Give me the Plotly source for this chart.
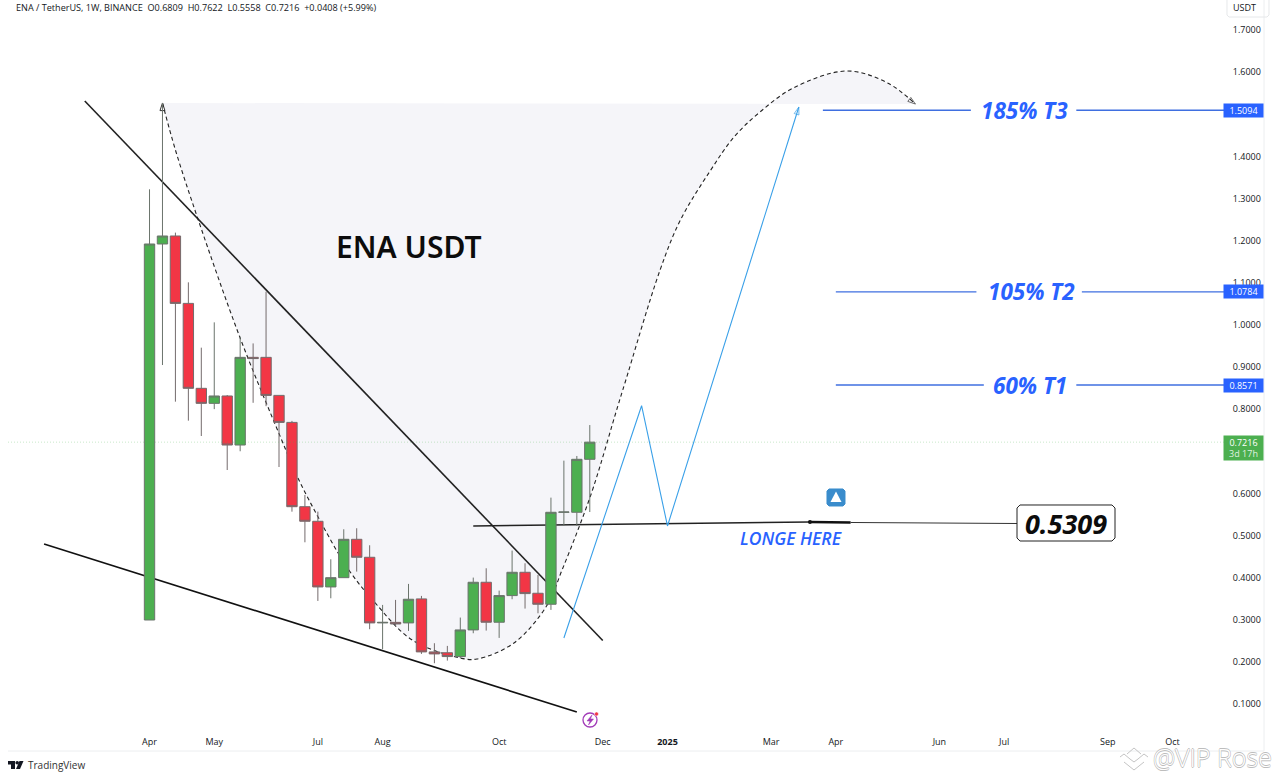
import pandas as pd
import plotly.graph_objects as go

# weekly candles, ENA / USDT
week_starts = pd.date_range("2024-04-01", periods=35, freq="7D")
opens = [0.2994, 1.192, 1.211, 1.051, 0.8494, 0.8137, 0.8312, 0.7148, 0.9229, 0.9229, 0.8326, 0.7685,
         0.5684, 0.5338, 0.3779, 0.3999, 0.4910, 0.4483, 0.2925, 0.2938, 0.2925, 0.3495, 0.2237, 0.2217,
         0.2126, 0.2759, 0.3890, 0.2941, 0.3574, 0.4127, 0.3629, 0.3368, 0.5551, 0.5551, 0.6809]
highs = [1.3218, 1.5267, 1.219, 1.101, 0.9459, 1.006, 0.8335, 0.972, 0.956, 1.0787, 0.8326, 0.772,
         0.5963, 0.5567, 0.4436, 0.5148, 0.5172, 0.4768, 0.3352, 0.3471, 0.3851, 0.3566, 0.2443, 0.2379,
         0.3052, 0.4001, 0.4222, 0.3692, 0.4642, 0.4341, 0.4064, 0.5899, 0.6777, 0.6888, 0.7622]
lows = [0.2994, 0.9047, 0.8177, 0.7726, 0.7362, 0.80, 0.6555, 0.70, 0.815, 0.807, 0.6626, 0.5566,
        0.4839, 0.3447, 0.3510, 0.3999, 0.4143, 0.2775, 0.2300, 0.2838, 0.2735, 0.2189, 0.1968, 0.2031,
        0.2087, 0.2680, 0.2743, 0.2569, 0.3487, 0.3265, 0.3154, 0.3234, 0.5227, 0.5227, 0.5558]
closes = [1.192, 1.211, 1.051, 0.8494, 0.8137, 0.8312, 0.7148, 0.9229, 0.9200, 0.8326, 0.7685, 0.5684,
          0.5338, 0.3779, 0.3999, 0.4910, 0.4483, 0.2925, 0.2938, 0.2900, 0.3487, 0.2237, 0.2189, 0.2126,
          0.2759, 0.3890, 0.2941, 0.3574, 0.4127, 0.3621, 0.3368, 0.5551, 0.5558, 0.6809, 0.7216]

# hand drawn cup curve
cup_dates = ["2024-04-08", "2024-04-15", "2024-04-27", "2024-05-20", "2024-06-11", "2024-06-20", "2024-07-02",
             "2024-07-17", "2024-08-01", "2024-08-21", "2024-09-16", "2024-09-25", "2024-10-15", "2024-11-02",
             "2024-11-10", "2024-11-19", "2024-11-27", "2024-12-10", "2024-12-14", "2025-01-02", "2025-01-13",
             "2025-01-29", "2025-02-11", "2025-02-25", "2025-03-15", "2025-04-13", "2025-05-05", "2025-05-20"]
cup_prices = [1.5267, 1.4151, 1.2537, 0.9688, 0.7315, 0.6389, 0.5368, 0.4229, 0.3398, 0.2519, 0.2092, 0.2068,
              0.2448, 0.3350, 0.4181, 0.5178, 0.6151, 0.8050, 0.8620, 1.1303, 1.2490, 1.3650, 1.4460, 1.5053,
              1.5623, 1.6027, 1.5742, 1.5243]

# trend lines
upper_dates = ["2024-02-26", "2024-12-02"]
upper_prices = [1.5315, 0.2507]
lower_dates = ["2024-02-04", "2024-11-18"]
lower_prices = [0.4798, 0.0810]
entry_dates = ["2024-09-23", "2025-03-24", "2025-04-15", "2025-07-14"]
entry_prices = [0.5226, 0.5320, 0.5309, 0.5285]
path_dates = ["2024-11-11", "2024-12-23", "2025-01-06", "2025-03-18"]
path_prices = [0.2567, 0.8081, 0.5226, 1.5172]

# targets
target_prices = [1.5094, 1.0784, 0.8571]
target_names = ["185% T3", "105% T2", "60% T1"]
target_starts = ["2025-03-31", "2025-04-07", "2025-04-07"]
target_gap_starts = ["2025-06-19", "2025-06-22", "2025-06-26"]
target_gap_ends = ["2025-08-15", "2025-08-18", "2025-08-15"]
target_text_dates = ["2025-07-18", "2025-07-22", "2025-07-21"]
last_price = 0.7216

month_dates = ["2024-04-01", "2024-05-06", "2024-07-01", "2024-08-05", "2024-10-07", "2024-12-02", "2025-01-06",
               "2025-03-03", "2025-04-07", "2025-06-02", "2025-07-07", "2025-09-01", "2025-10-06"]
month_labels = ["Apr", "May", "Jul", "Aug", "Oct", "Dec", "<b>2025</b>", "Mar", "Apr", "Jun", "Jul", "Sep", "Oct"]
price_ticks = [0.1, 0.2, 0.3, 0.4, 0.5, 0.6, 0.7, 0.8, 0.9, 1.0, 1.1, 1.2, 1.3, 1.4, 1.5, 1.6, 1.7]

W, H = 1280, 779
LEFT, RIGHT, BOTTOM = 8, 1226, 730
FONT = "Open Sans"
GREEN = "#4caf50"
RED = "#f23645"
BLUE = "#2962ff"
LINE_BLUE = "#3f6fe0"
DARK = "#131722"
x_range = ["2024-01-15 12:00", "2025-11-03 22:00"]
y_range = [0.0383, 1.7712]


# page pixels to paper coordinates, only for the decorations around the chart
def pap_x(x):
    return (x - LEFT) / (RIGHT - LEFT)


def pap_y(y):
    return (BOTTOM - y) / BOTTOM


def page_path(points, close=False):
    s = ""
    for i, (x, y) in enumerate(points):
        s += ("M" if i == 0 else "L") + f"{pap_x(x):.5f},{pap_y(y):.5f} "
    return s + ("Z" if close else "")


fig = go.Figure()

# cup fill and dashed outline
fig.add_trace(go.Scatter(x=cup_dates, y=cup_prices, mode="lines", fill="toself", fillcolor="#f5f5f9",
                         line=dict(color="#222222", width=1.1, dash="4px,3px", shape="spline", smoothing=1.0)))
fig.add_trace(go.Scatter(x=cup_dates[:1], y=cup_prices[:1], mode="markers",
                         marker=dict(symbol="arrow-open", size=8, color="#333333", line=dict(width=1, color="#333333"))))
fig.add_trace(go.Scatter(x=cup_dates[-2:], y=cup_prices[-2:], mode="markers",
                         marker=dict(symbol="arrow-open", size=[0, 8], angleref="previous", color="#333333",
                                     line=dict(width=1, color="#333333"))))

fig.add_hline(y=last_price, line=dict(color="rgba(76,175,80,0.3)", width=1, dash="1px,2px"))

fig.add_trace(go.Scatter(x=upper_dates, y=upper_prices, mode="lines", line=dict(color="#222222", width=1.6)))
fig.add_trace(go.Scatter(x=lower_dates, y=lower_prices, mode="lines", line=dict(color="#111111", width=1.6)))

fig.add_trace(go.Scatter(x=entry_dates[:2], y=entry_prices[:2], mode="lines", line=dict(color="#222222", width=1.5)))
fig.add_trace(go.Scatter(x=entry_dates[1:3], y=entry_prices[1:3], mode="lines", line=dict(color="#111111", width=2.4)))
fig.add_trace(go.Scatter(x=entry_dates[2:], y=entry_prices[2:], mode="lines", line=dict(color="#333333", width=1)))
fig.add_trace(go.Scatter(x=entry_dates[1:2], y=entry_prices[1:2], mode="markers",
                         marker=dict(color="#111111", size=4)))

fig.add_trace(go.Scatter(x=path_dates, y=path_prices, mode="lines+markers", line=dict(color="#3aa0e8", width=1.1),
                         marker=dict(symbol="arrow-open", size=[0, 0, 0, 8], angleref="previous", color="#3aa0e8",
                                     line=dict(width=1, color="#3aa0e8"))))

# target lines, split around their labels
for i in range(3):
    fig.add_trace(go.Scatter(x=[target_starts[i], target_gap_starts[i]], y=[target_prices[i]] * 2, mode="lines",
                             line=dict(color=LINE_BLUE, width=1.4)))
    fig.add_trace(go.Scatter(x=[target_gap_ends[i], x_range[1]], y=[target_prices[i]] * 2, mode="lines",
                             line=dict(color=LINE_BLUE, width=1.4)))
    fig.add_annotation(x=target_text_dates[i], y=target_prices[i], xref="x", yref="y", text=target_names[i],
                       showarrow=False, xanchor="center", yanchor="middle",
                       font=dict(family=FONT, size=22.5, color=BLUE, weight=700, style="italic"))

# candles sit on an overlaying axis pair so the drawings pass behind them
fig.add_trace(go.Candlestick(x=week_starts, open=opens, high=highs, low=lows, close=closes, xaxis="x2", yaxis="y2",
                             increasing=dict(fillcolor=GREEN, line=dict(color="#6b746c", width=1)),
                             decreasing=dict(fillcolor=RED, line=dict(color="#746b6c", width=1))))

fig.add_annotation(x="2024-08-19", y=1.1849, xref="x", yref="y", text="ENA USDT", showarrow=False,
                   xanchor="center", yanchor="middle",
                   font=dict(family="Noto Sans", size=30, color="#0c0c0c", weight=600))
fig.add_annotation(x="2025-03-14", y=0.4941, xref="x", yref="y", text="LONGE HERE", showarrow=False,
                   xanchor="center", yanchor="middle",
                   font=dict(family=FONT, size=17.5, color=BLUE, weight=600, style="italic"))


def page_text(x, y, text, font, xanchor="center"):
    fig.add_annotation(x=pap_x(x), y=pap_y(y), xref="paper", yref="paper", text=text, showarrow=False,
                       xanchor=xanchor, yanchor="middle", font=font)


page_text(1066, 523, "0.5309", dict(family=FONT, size=27, color="#0c0c0c", weight=700, style="italic"))

# price tags on the right
for p in target_prices:
    fig.add_annotation(x=pap_x(1243.5), y=p, xref="paper", yref="y", text=f"{p:.4f}", showarrow=False,
                       xanchor="center", yanchor="middle", width=39, height=13, bgcolor=BLUE, borderpad=0,
                       font=dict(family=FONT, size=9, color="white"))
fig.add_annotation(x=pap_x(1243.5), y=last_price, yshift=-6, xref="paper", yref="y",
                   text=f"{last_price:.4f}<br><span style='font-size:9px;fill-opacity:0.85'>3d 17h</span>",
                   showarrow=False, xanchor="center", yanchor="middle", width=39, height=24, bgcolor=GREEN, borderpad=0,
                   font=dict(family=FONT, size=9, color="white"))

# header, currency box, logo and watermark
page_text(14, 7, "ENA / TetherUS, 1W, BINANCE  O0.6809  H0.7622  L0.5558  C0.7216  +0.0408 (+5.99%)",
          dict(family=FONT, size=9.1, color=DARK), xanchor="left")
page_text(1244, 8, "USDT", dict(family=FONT, size=9, color=DARK))
page_text(26, 765, "TradingView", dict(family=FONT, size=10, color="#333333"), xanchor="left")
page_text(1212, 757, "@VIP Rose", dict(family=FONT, size=25, color="#ffffff", weight=300,
                                       shadow="0.6px 0 #bdbdbd, -0.6px 0 #bdbdbd, 0 0.6px #bdbdbd, 0 -0.6px #bdbdbd"))

frame = "#eceef0"
shapes = [
    dict(type="path", path=page_path([(8, 0), (8, 751)]), line=dict(color=frame, width=1)),
    dict(type="path", path=page_path([(8, 751), (1264, 751)]), line=dict(color=frame, width=1)),
    dict(type="path", path=page_path([(1264, 0), (1264, 751)]), line=dict(color=frame, width=1)),
    dict(type="path", path=page_path([(1227, 0), (1227, 15), (1229, 17), (1267, 17), (1269, 15), (1269, 0)]),
         line=dict(color="#e6e8ea", width=1)),
    # long marker
    dict(type="path", fillcolor="#3a8ccc", line=dict(color="#3a8ccc", width=1),
         path=page_path([(829, 489), (843, 489), (845, 491), (845, 504), (843, 506), (829, 506), (827, 504), (827, 491)],
                        close=True)),
    dict(type="path", fillcolor="white", line=dict(color="white", width=0),
         path=page_path([(836, 491.5), (841.5, 502), (830.5, 502)], close=True)),
    # purple flash icon
    dict(type="circle", x0=pap_x(583), x1=pap_x(597), y0=pap_y(727), y1=pap_y(713),
         line=dict(color="#a23bb8", width=1.3)),
    dict(type="path", fillcolor="#a23bb8", line=dict(color="#a23bb8", width=0.5),
         path=page_path([(592, 715), (587, 721), (590, 721), (588.5, 725), (593.5, 719), (590.5, 719)], close=True)),
    dict(type="circle", x0=pap_x(594.5), x1=pap_x(598.5), y0=pap_y(716), y1=pap_y(712),
         fillcolor=RED, line=dict(color="white", width=0.5)),
    # TradingView logo
    dict(type="path", fillcolor="#131722", line=dict(width=0),
         path=page_path([(8, 761), (15, 761), (15, 769), (11, 769), (11, 764.5), (8, 764.5)], close=True)),
    dict(type="circle", x0=pap_x(15.4), x1=pap_x(19), y0=pap_y(764.6), y1=pap_y(761),
         fillcolor="#131722", line=dict(width=0)),
    dict(type="path", fillcolor="#131722", line=dict(width=0),
         path=page_path([(19.5, 761), (23.5, 761), (20, 769), (16, 769)], close=True)),
    # box around 0.5309
    dict(type="path", fillcolor="white", line=dict(color="#222222", width=1),
         path=page_path([(1020, 505), (1112, 505), (1115, 508), (1115, 538), (1112, 541), (1020, 541),
                         (1017, 538), (1017, 508)], close=True)),
]
# watermark chevrons
for pts in [[(1127, 754), (1134, 748), (1141, 754)],
            [(1120, 757), (1124, 754), (1130, 759), (1134, 762), (1138, 759), (1144, 754), (1148, 757)],
            [(1124, 762), (1134, 770), (1144, 762)]]:
    shapes.append(dict(type="path", path=page_path(pts), line=dict(color="#c4c4c4", width=1)))
for s in shapes:
    s["xref"] = "paper"
    s["yref"] = "paper"
    s["layer"] = "above"

fig.update_layout(
    width=W, height=H,
    margin=dict(l=LEFT, r=W - RIGHT, t=0, b=H - BOTTOM, pad=0),
    paper_bgcolor="white",
    plot_bgcolor="white",
    showlegend=False,
    hovermode=False,
    boxgap=0.2,
    boxgroupgap=0,
    shapes=shapes,
    xaxis=dict(type="date", range=x_range, tickmode="array", tickvals=month_dates, ticktext=month_labels,
               showgrid=False, zeroline=False, showline=False, ticks="outside", ticklen=3, tickcolor="white",
               tickfont=dict(family=FONT, size=9, color=DARK), tickangle=0),
    yaxis=dict(side="right", range=y_range, tickmode="array", tickvals=price_ticks, tickformat=".4f",
               showgrid=False, zeroline=False, showline=False, ticks="outside", ticklen=4, tickcolor="white",
               tickfont=dict(family=FONT, size=9, color=DARK)),
    xaxis2=dict(type="date", range=x_range, overlaying="x", visible=False, rangeslider=dict(visible=False)),
    yaxis2=dict(range=y_range, overlaying="y", side="right", visible=False),
)

fig.write_html("out.html", config={"displayModeBar": False},
               post_script="document.body.style.margin='0';")
